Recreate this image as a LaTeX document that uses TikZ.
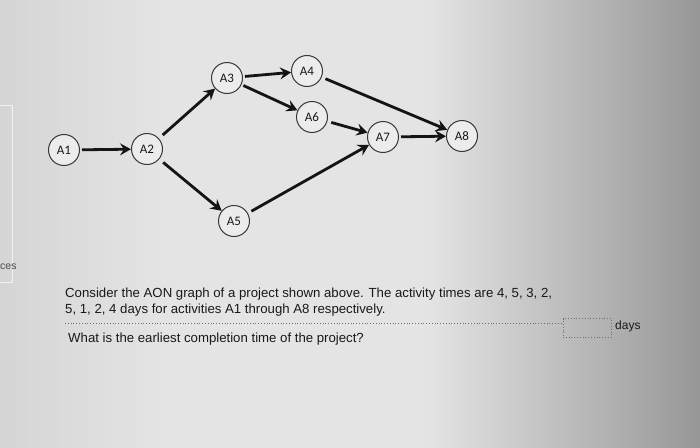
\documentclass[tikz,border=0pt]{standalone}
\usepackage{fontspec}
\setmainfont{Liberation Sans}
\newfontfamily\nodefont{Carlito}
\usetikzlibrary{arrows.meta}
\definecolor{bgL}{RGB}{212,212,212}
\definecolor{bgM}{RGB}{228,228,228}
\definecolor{bgR}{RGB}{148,148,148}
\definecolor{txt}{RGB}{25,25,25}
\definecolor{ring}{RGB}{55,55,55}
\definecolor{dotc}{RGB}{110,110,110}
\tikzset{
  act/.style={circle, draw=ring, line width=1pt, fill=bgM!70!white, minimum size=31pt, inner sep=0pt, font=\nodefont\fontsize{13}{13}\selectfont, text=txt},
  link/.style={line width=2.8pt, draw=black!92, -{Stealth[length=11pt,width=12pt,inset=4pt]}, shorten <=2pt},
  para/.style={font=\fontsize{13.2}{15.5}\selectfont, text=txt, anchor=north west, align=left, inner sep=0pt}
}
\begin{document}
\begin{tikzpicture}[x=1pt,y=-1pt]
\useasboundingbox (0,0) rectangle (700,447);
\fill[bgM] (-10,-10) rectangle (710,457);
\shade[left color=bgL, right color=bgM] (-10,-10) rectangle (162,457);
\shade[left color=bgM, right color=bgR] (428,-10) rectangle (710,457);
% faint side panel
\draw[white!90!gray, line width=0.8pt] (0,105) -- (12,105) -- (12,282) -- (0,282);
\node[font=\fontsize{10.5}{10.5}\selectfont, text=black!70, anchor=west, inner sep=0pt] (ces) at (0,267) {ces};
% nodes
\node[act] (A1) at (64,150) {A1};
\node[act] (A2) at (147,149) {A2};
\node[act] (A3) at (227,78) {A3};
\node[act] (A4) at (307,71) {A4};
\node[act] (A5) at (234,221) {A5};
\node[act] (A6) at (312,117) {A6};
\node[act] (A7) at (383,137) {A7};
\node[act] (A8) at (462,136) {A8};
% links
\draw[link] (A1) -- (A2);
\draw[link, shorten <=5pt] (A2) -- (A3);
\draw[link, shorten <=5pt] (A2) -- (A5);
\draw[link] (A3) -- (A4);
\draw[link] (A3) -- (A6);
\draw[link, shorten <=4pt] (A4) -- (A8);
\draw[link, shorten <=4pt] (A6) -- (A7);
\draw[link, shorten <=4pt] (A5) -- (A7);
\draw[link] (A7) -- (A8);
% text
\node[para] (q1) at (65,288) {Consider the AON graph of a project shown above. The activity times are 4, 5, 3, 2,\\5, 1, 2, 4 days for activities A1 through A8 respectively.};
\coordinate (dl) at (65,323);
\node[draw=dotc, dotted, line width=0.8pt, minimum width=48pt, minimum height=19pt, inner sep=0pt] (box) at (587,328) {};
\draw[dotc, dotted, line width=0.8pt] (dl) -- (box.north west |- dl);
\node[font=\fontsize{12}{12}\selectfont, text=txt, anchor=west, inner sep=0pt] (days) at (615,326) {days};
\node[para] (q2) at (68,333) {What is the earliest completion time of the project?};
\end{tikzpicture}
\end{document}
